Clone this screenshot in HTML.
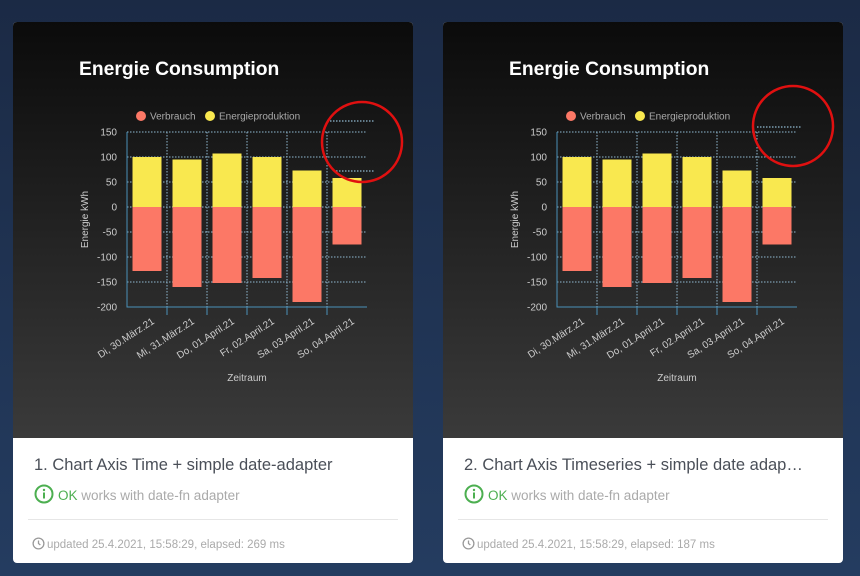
<!DOCTYPE html>
<html><head><meta charset="utf-8"><style>
*{margin:0;padding:0;box-sizing:border-box}
body{width:860px;height:576px;overflow:hidden;background:linear-gradient(180deg,#1b2a45,#243c60);font-family:"Liberation Sans",sans-serif;position:relative}
.card{position:absolute;top:22px;width:400px;height:541px;border-radius:4px;overflow:hidden;background:#fff}
.dark{position:absolute;left:0;top:0;width:400px;height:416px;background:linear-gradient(180deg,#0b0b0b,#3a3a3a)}
.ttl{position:absolute;left:66px;top:37px;color:#fff;font-size:19.3px;font-weight:bold}
.h{position:absolute;left:21px;top:434px;font-size:16.5px;color:#4a4f58}
.ok{position:absolute;left:21px;top:458px;font-size:13.5px;color:#aaa}
.ok b{font-weight:normal;color:#4caf50}
.hr{position:absolute;left:15px;right:15px;top:497px;border-top:1px solid #e6e6e6}
.ft{position:absolute;left:19px;top:513px;font-size:11.5px;color:#aaa}
svg{position:absolute;left:0;top:0}
</style></head><body>
<div class="card" style="left:13px">
 <div class="dark"></div>
 <div class="ttl">Energie Consumption</div>
 <svg id="c1" width="400" height="416"></svg>
 <div class="h">1. Chart Axis Time + simple date-adapter</div>
 <div class="ok"><svg width="20" height="20" style="position:relative;top:4px;margin-right:4px" viewBox="0 0 20 20"><circle cx="10" cy="10" r="8.5" fill="none" stroke="#4caf50" stroke-width="2"/><rect x="9" y="8.5" width="2" height="6" fill="#4caf50"/><circle cx="10" cy="6" r="1.2" fill="#4caf50"/></svg><b>OK</b> works with date-fn adapter</div>
 <div class="hr"></div>
 <div class="ft"><svg width="13" height="13" style="position:relative;top:2px;margin-right:2px" viewBox="0 0 14 14"><circle cx="7" cy="7" r="5.8" fill="none" stroke="#999" stroke-width="1.4"/><path d="M7 3.8V7l2 1.6" fill="none" stroke="#999" stroke-width="1.4"/></svg>updated 25.4.2021, 15:58:29, elapsed: 269 ms</div>
</div>
<div class="card" style="left:443px">
 <div class="dark"></div>
 <div class="ttl">Energie Consumption</div>
 <svg id="c2" width="400" height="416"></svg>
 <div class="h">2. Chart Axis Timeseries + simple date adap…</div>
 <div class="ok"><svg width="20" height="20" style="position:relative;top:4px;margin-right:4px" viewBox="0 0 20 20"><circle cx="10" cy="10" r="8.5" fill="none" stroke="#4caf50" stroke-width="2"/><rect x="9" y="8.5" width="2" height="6" fill="#4caf50"/><circle cx="10" cy="6" r="1.2" fill="#4caf50"/></svg><b>OK</b> works with date-fn adapter</div>
 <div class="hr"></div>
 <div class="ft"><svg width="13" height="13" style="position:relative;top:2px;margin-right:2px" viewBox="0 0 14 14"><circle cx="7" cy="7" r="5.8" fill="none" stroke="#999" stroke-width="1.4"/><path d="M7 3.8V7l2 1.6" fill="none" stroke="#999" stroke-width="1.4"/></svg>updated 25.4.2021, 15:58:29, elapsed: 187 ms</div>
</div>
<script>
const categories=["Di, 30.März.21","Mi, 31.März.21","Do, 01.April.21","Fr, 02.April.21","Sa, 03.April.21","So, 04.April.21"];
const production=[100,95,107,100,73,58];
const consumption=[-128,-160,-152,-142,-190,-75];
const yTicks=[150,100,50,0,-50,-100,-150,-200];
const NS="http://www.w3.org/2000/svg";
function mk(svg,t,a,txt){const e=document.createElementNS(NS,t);for(const k in a)e.setAttribute(k,a[k]);if(txt!==undefined)e.textContent=txt;svg.appendChild(e);return e;}
function draw(id,extra){
 const svg=document.getElementById(id);
 const L=114,R=354,T=110,B=285,yMin=-200,yMax=150;
 const y=v=>T+(yMax-v)/(yMax-yMin)*(B-T);
 const bw=(R-L)/categories.length;
 const x=i=>L+i*bw;
 yTicks.forEach(v=>{
  const g=mk(svg,'line',{x1:L,x2:R,y1:y(v),y2:y(v),stroke:'#8fb8d0','stroke-dasharray':'1.5,1.5','stroke-width':1});
  
  const t=mk(svg,'text',{x:L-10,y:y(v)+3.5,'text-anchor':'end','font-size':10,fill:'#ccc'},v);
  
 });
 for(let i=1;i<categories.length;i++){
  mk(svg,'line',{x1:x(i),x2:x(i),y1:T,y2:B,stroke:'#8fb8d0','stroke-dasharray':'1.5,1.5'});
  mk(svg,'line',{x1:x(i),x2:x(i),y1:B,y2:B+8,stroke:'#4a90b8'});
 }
 categories.forEach((c,i)=>{
  const cx=x(i)+bw/2,w=29;
  const b1=mk(svg,'rect',{x:cx-w/2,y:y(production[i]),width:w,height:y(0)-y(production[i]),fill:'#f9e84f'});
  
  const b2=mk(svg,'rect',{x:cx-w/2,y:y(0),width:w,height:y(consumption[i])-y(0),fill:'#fc7866'});
  
  const t=mk(svg,'text',{transform:`translate(${cx+8},${B+16}) rotate(-33)`,'text-anchor':'end','font-size':10,fill:'#ccc'},c);
  
 });
 mk(svg,'path',{d:`M${L} ${T}V${B}H${R}`,fill:'none',stroke:'#4a90b8','stroke-width':1});
 const yt=mk(svg,'text',{transform:`translate(75,${(T+B)/2}) rotate(-90)`,'text-anchor':'middle','font-size':10,fill:'#ccc'},'Energie kWh');
 
 const xt=mk(svg,'text',{x:234,y:359,'text-anchor':'middle','font-size':10,fill:'#ccc'},'Zeitraum');
 
 mk(svg,'circle',{cx:128,cy:94,r:5,fill:'#fc7866'});
 const l1=mk(svg,'text',{x:137,y:97.5,'font-size':10,fill:'#aaa'},'Verbrauch');
 
 mk(svg,'circle',{cx:197,cy:94,r:5,fill:'#f9e84f'});
 const l2=mk(svg,'text',{x:206,y:97.5,'font-size':10,fill:'#aaa'},'Energieproduktion');
 
 extra.forEach(e=>mk(svg,'line',{x1:e[0],x2:e[1],y1:e[2],y2:e[2],stroke:'#8fb8d0','stroke-dasharray':'1.5,1.5','stroke-width':1.3}));
 mk(svg,'circle',{cx:id==='c1'?349:350,cy:id==='c1'?120:104,r:40,fill:'none',stroke:'#e01010','stroke-width':2.5});
}
draw('c1',[[317,362,99],[323,362,149]]);
draw('c2',[[314,359,105]]);
</script>
</body></html>
